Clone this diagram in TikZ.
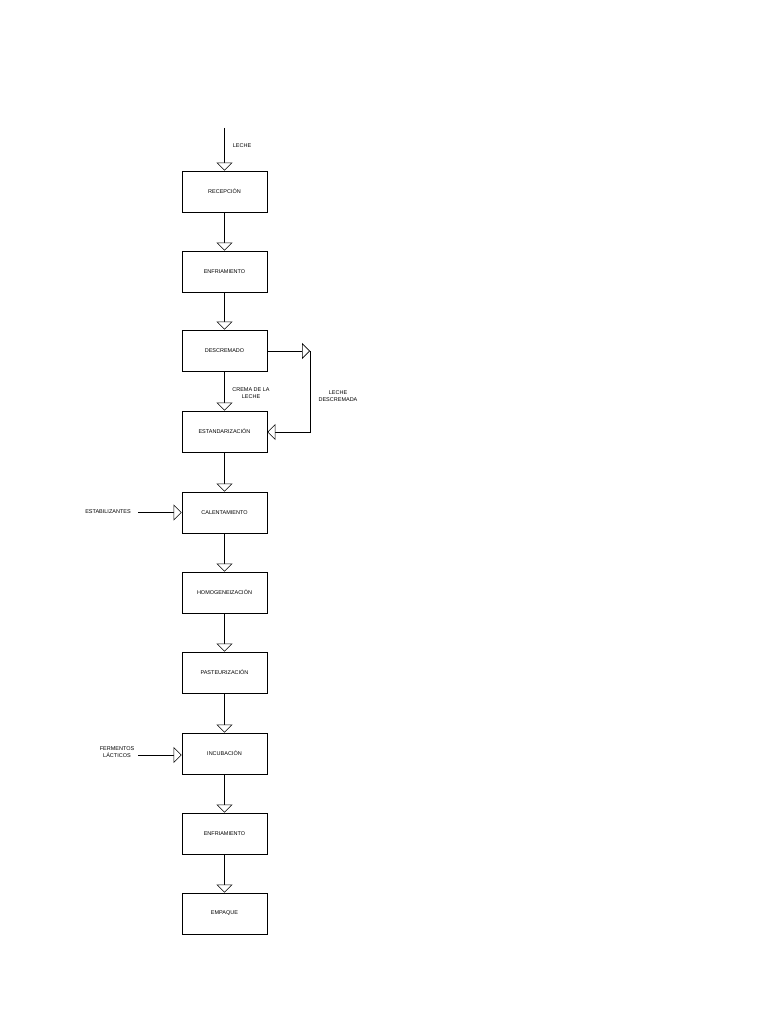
\documentclass[tikz,border=0pt]{standalone}
\usepackage{fontspec}
\setmainfont{Liberation Sans}
\usetikzlibrary{arrows.meta}
\begin{document}
\begin{tikzpicture}[x=1pt,y=-1pt,
  box/.style={draw,line width=0.8pt,minimum width=85pt,minimum height=41pt,inner sep=0pt,font=\fontsize{5.5}{6.5}\selectfont},
  lbl/.style={font=\fontsize{5.5}{6.5}\selectfont,align=center,inner sep=0pt},
  flow/.style={line width=0.6pt,-{Triangle[open,width=16pt,length=8pt,fill=white]}}]
\useasboundingbox (0,0) rectangle (768,1024);
\node[box] (b1) at (224.5,191.5) {RECEPCIÓN};
\node[box] (b2) at (224.5,271.5) {ENFRIAMIENTO};
\node[box] (b3) at (224.5,350.5) {DESCREMADO};
\node[box] (b4) at (224.5,431.5) {ESTANDARIZACIÓN};
\node[box] (b5) at (224.5,512.5) {CALENTAMIENTO};
\node[box] (b6) at (224.5,592.5) {HOMOGENEIZACIÓN};
\node[box] (b7) at (224.5,672.5) {PASTEURIZACIÓN};
\node[box] (b8) at (224.5,753.5) {INCUBACIÓN};
\node[box] (b9) at (224.5,833.5) {ENFRIAMIENTO};
\node[box] (b10) at (224.5,913.5) {EMPAQUE};
\coordinate (top) at (224.5,128);
\draw[flow] (top) -- (b1.north);
\node[lbl] (l1) at (242,146) {LECHE};
\foreach \a/\b in {b1/b2,b2/b3,b3/b4,b4/b5,b5/b6,b6/b7,b7/b8,b8/b9,b9/b10}
  \draw[flow] (\a) -- (\b);
\node[lbl] (l2) at (251,393) {CREMA DE LA\\LECHE};
\coordinate (r1) at (310,351);
\coordinate (r2) at (310,432);
\draw[flow] (b3.east |- r1) -- (r1);
\draw[flow] (r1) -- (r2) -- (b4.east |- r2);
\node[lbl] (l3) at (338,396) {LECHE\\DESCREMADA};
\coordinate (e1) at (138,512.5);
\draw[flow] (e1) -- (b5.west);
\node[lbl] (l4) at (108,512) {ESTABILIZANTES};
\coordinate (f1) at (138,755);
\draw[flow] (f1) -- (b8.west |- f1);
\node[lbl] (l5) at (117,752) {FERMENTOS\\LÁCTICOS};
\end{tikzpicture}
\end{document}
